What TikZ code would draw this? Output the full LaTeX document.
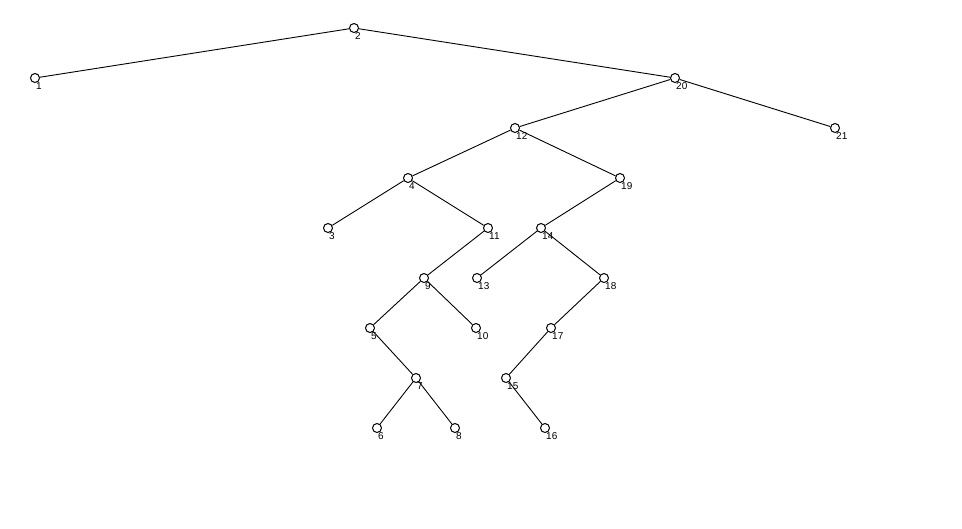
\documentclass[tikz,border=0pt]{standalone}
\usepackage{fontspec}
\setmainfont{Liberation Sans}
\begin{document}
\begin{tikzpicture}[x=1pt,y=-1pt,
  vert/.style={circle,draw,inner sep=0pt,minimum size=9pt,line width=1pt},
  lab/.style={font=\fontsize{10}{10}\selectfont,inner sep=0pt,anchor=north west},
  edge/.style={line width=0.9pt}]
\useasboundingbox (0,0) rectangle (962,528);
\foreach \n/\x/\y in {1/35/78,2/354/28,20/675/78,21/835/128,12/515/128,4/408/178,19/620/178,3/328/228,11/488/228,14/541/228,9/424/278,13/477/278,18/604/278,5/370/328,10/476/328,17/551/328,7/416/378,15/506/378,6/377/428,8/455/428,16/545/428}{
  \node[vert] (v\n) at (\x,\y) {};
  \node[lab] (l\n) at (\x+1,\y+4) {\n};
}
\foreach \a/\b in {2/1,2/20,20/12,20/21,12/4,12/19,4/3,4/11,11/9,9/5,9/10,5/7,7/6,7/8,19/14,14/13,14/18,18/17,17/15,15/16}{
  \draw[edge] (v\a) -- (v\b);
}
\end{tikzpicture}
\end{document}
